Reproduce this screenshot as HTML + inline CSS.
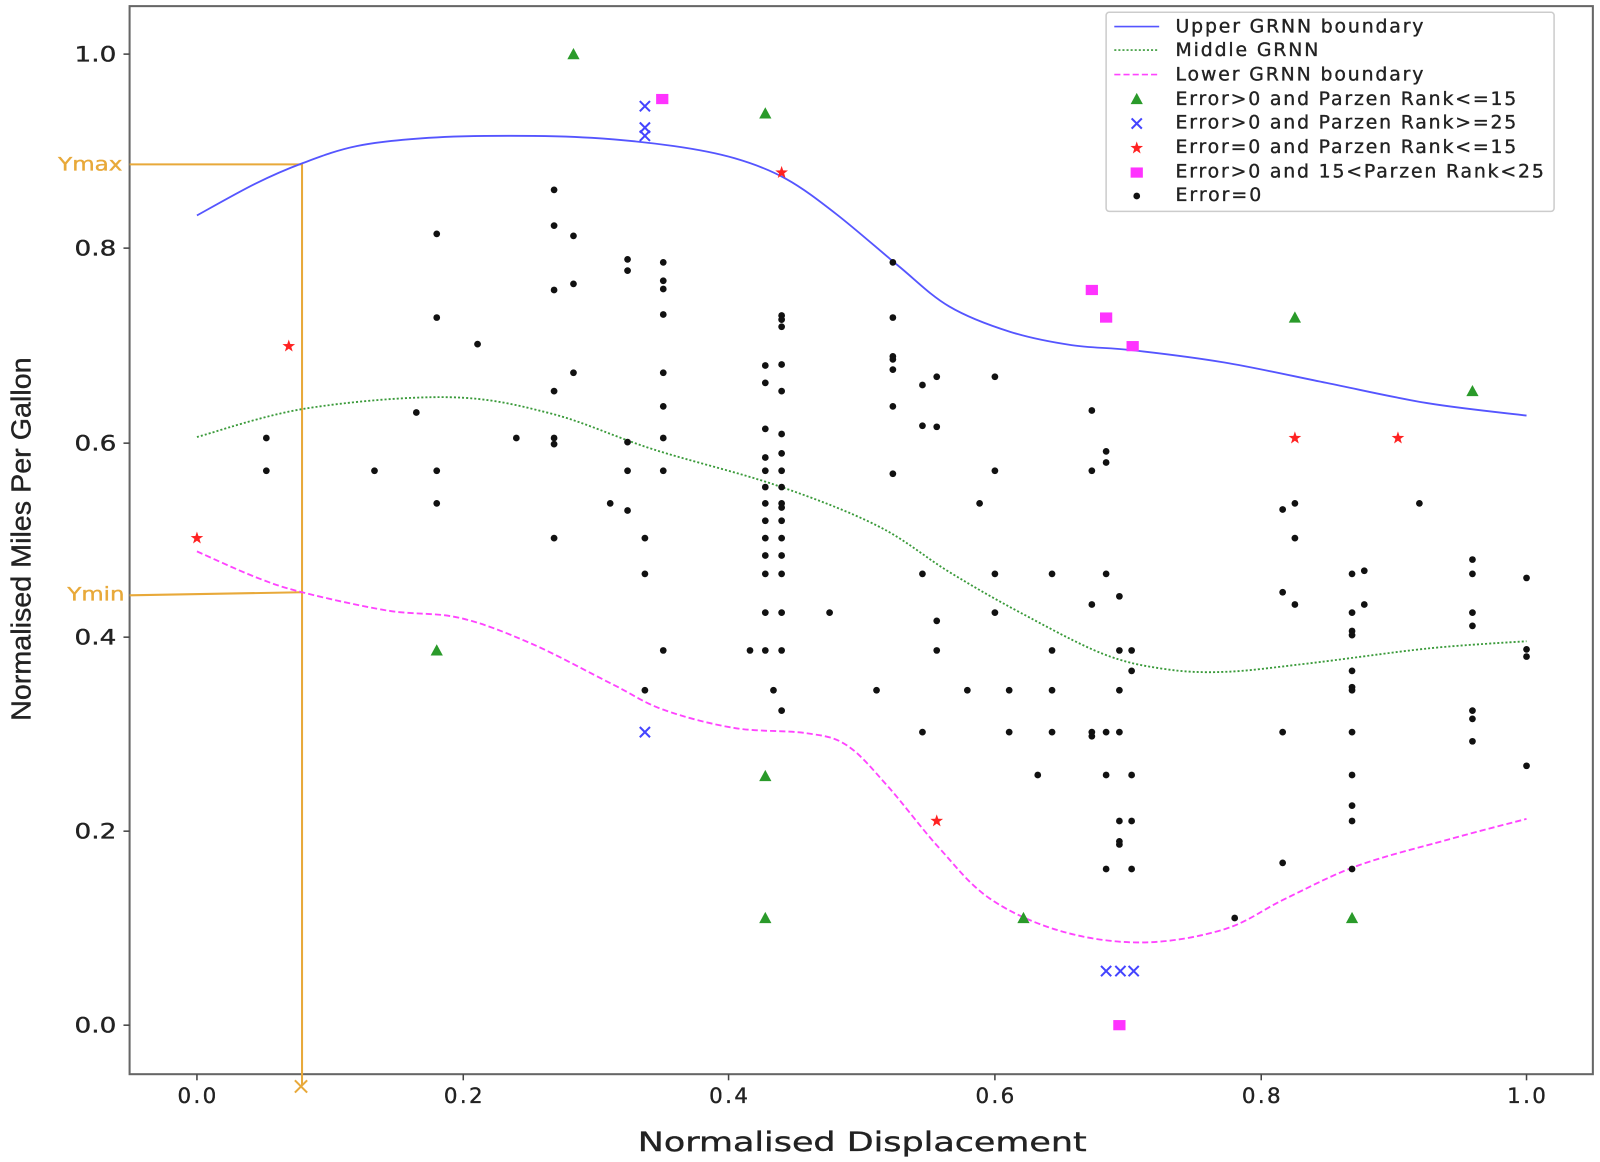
<!DOCTYPE html>
<html><head><meta charset="utf-8"><style>html,body{margin:0;padding:0;background:#fff}svg{display:block}text{stroke-width:0.35}</style></head>
<body>
<svg id="s" width="1600" height="1162" viewBox="0 0 1568 1138" preserveAspectRatio="none" xmlns="http://www.w3.org/2000/svg" font-family="DejaVu Sans, Liberation Sans, sans-serif">
<rect x="127" y="6" width="1434" height="1046" fill="none" stroke="#666" stroke-width="2"/>
<g font-size="21" fill="#222" stroke="#222" text-anchor="middle" lengthAdjust="spacingAndGlyphs">
<text x="193" y="1080" textLength="38">0.0</text><text x="454" y="1080" textLength="38">0.2</text><text x="714" y="1080" textLength="38">0.4</text><text x="975" y="1080" textLength="38">0.6</text><text x="1236" y="1080" textLength="38">0.8</text><text x="1496" y="1080" textLength="38">1.0</text>
</g>
<g stroke="#444" stroke-width="1.5"><line x1="193" y1="1052" x2="193" y2="1058"/><line x1="454" y1="1052" x2="454" y2="1058"/><line x1="714" y1="1052" x2="714" y2="1058"/><line x1="975" y1="1052" x2="975" y2="1058"/><line x1="1236" y1="1052" x2="1236" y2="1058"/><line x1="1496" y1="1052" x2="1496" y2="1058"/>
<line x1="121" y1="53" x2="127" y2="53"/><line x1="121" y1="243" x2="127" y2="243"/><line x1="121" y1="434" x2="127" y2="434"/><line x1="121" y1="624" x2="127" y2="624"/><line x1="121" y1="814" x2="127" y2="814"/><line x1="121" y1="1004" x2="127" y2="1004"/></g>
<g font-size="21" fill="#222" stroke="#222" text-anchor="end">
<text x="114" y="60" textLength="41" lengthAdjust="spacingAndGlyphs">1.0</text><text x="114" y="250" textLength="41" lengthAdjust="spacingAndGlyphs">0.8</text><text x="114" y="441" textLength="41" lengthAdjust="spacingAndGlyphs">0.6</text><text x="114" y="631" textLength="41" lengthAdjust="spacingAndGlyphs">0.4</text><text x="114" y="821" textLength="41" lengthAdjust="spacingAndGlyphs">0.2</text><text x="114" y="1011" textLength="41" lengthAdjust="spacingAndGlyphs">0.0</text>
</g>
<text x="625" y="1127" font-size="26" fill="#222" stroke="#222" textLength="440" lengthAdjust="spacingAndGlyphs">Normalised Displacement</text>
<text transform="translate(30,528) rotate(-90)" x="-178" y="0" font-size="27" fill="#222" stroke="#222" textLength="356" lengthAdjust="spacingAndGlyphs" font-family="Liberation Sans, sans-serif">Normalised Miles Per Gallon</text>
<g stroke="#e8a93a" stroke-width="2" fill="none"><polyline points="127,161 296,161 296,1063"/><line x1="127" y1="583" x2="296" y2="580"/><path d="M289,1058 l12,12 M301,1058 l-12,12"/></g>
<text x="57" y="167" font-size="18" fill="#e8a93a" stroke="#e8a93a" textLength="63" lengthAdjust="spacingAndGlyphs">Ymax</text>
<text x="66" y="588" font-size="18" fill="#e8a93a" stroke="#e8a93a" textLength="56" lengthAdjust="spacingAndGlyphs">Ymin</text>
<path id="c1" fill="none" stroke="#5555ff" stroke-width="1.8"/>
<path id="c2" fill="none" stroke="#3a9a3a" stroke-width="1.8" stroke-dasharray="2,2"/>
<path id="c3" fill="none" stroke="#ff44ff" stroke-width="1.8" stroke-dasharray="6,3"/>
<g id="pts"></g>
<rect x="1084" y="12" width="439" height="195" fill="#fff" fill-opacity="0.9" stroke="#ccc" stroke-width="1.5" rx="3"/>
<g stroke-width="1.6" fill="none"><line x1="1092" y1="26" x2="1136" y2="26" stroke="#5555ff"/><line x1="1092" y1="49" x2="1136" y2="49" stroke="#3a9a3a" stroke-dasharray="2,2"/><line x1="1092" y1="73" x2="1136" y2="73" stroke="#ff44ff" stroke-dasharray="6,3"/></g>
<g id="leg"></g>
<g font-size="18.5" fill="#222" stroke="#222" lengthAdjust="spacingAndGlyphs">
<text x="1152" y="32" textLength="243">Upper GRNN boundary</text><text x="1152" y="55" textLength="140">Middle GRNN</text><text x="1152" y="79" textLength="243">Lower GRNN boundary</text><text x="1152" y="103" textLength="334">Error&gt;0 and Parzen Rank&lt;=15</text><text x="1152" y="126" textLength="334">Error&gt;0 and Parzen Rank&gt;=25</text><text x="1152" y="150" textLength="334">Error=0 and Parzen Rank&lt;=15</text><text x="1152" y="174" textLength="361">Error&gt;0 and 15&lt;Parzen Rank&lt;25</text><text x="1152" y="197" textLength="84">Error=0</text>
</g>
</svg>
<script>
var NS="http://www.w3.org/2000/svg",g=document.getElementById("pts"),lg=document.getElementById("leg");
function cr(P){var d="M"+P[0][0]+","+P[0][1];for(var i=0;i<P.length-1;i++){var p0=P[Math.max(i-1,0)],p1=P[i],p2=P[i+1],p3=P[Math.min(i+2,P.length-1)];d+="C"+(p1[0]+(p2[0]-p0[0])/6).toFixed(1)+","+(p1[1]+(p2[1]-p0[1])/6).toFixed(1)+" "+(p2[0]-(p3[0]-p1[0])/6).toFixed(1)+","+(p2[1]-(p3[1]-p1[1])/6).toFixed(1)+" "+p2[0]+","+p2[1];}return d;}
function pl(s){return s.trim().split(/\s+/).map(function(t){return t.split(",").map(Number);});}
document.getElementById("c1").setAttribute("d",cr(pl("193,211 250,180 296,160 350,143 420,135 500,133 580,135 660,143 720,155 770,175 820,210 880,260 930,300 990,325 1050,338 1110,343 1200,355 1300,375 1400,395 1496,407")));
document.getElementById("c2").setAttribute("d",cr(pl("193,428 300,400 440,389 540,405 640,440 760,475 860,515 930,560 1000,600 1080,640 1140,655 1200,658 1280,650 1400,635 1496,628")));
document.getElementById("c3").setAttribute("d",cr(pl("193,540 250,565 296,580 380,598 450,605 520,630 600,670 650,695 720,713 790,718 830,730 870,770 920,830 970,880 1040,912 1120,923 1200,910 1260,880 1330,848 1420,822 1496,802")));
function el(p,t,a){var e=document.createElementNS(NS,t);for(var k in a)e.setAttribute(k,a[k]);p.appendChild(e);}
function dot(p,x,y){el(p,"circle",{cx:x,cy:y,r:3.3,fill:"#111"});}
function tri(p,x,y){el(p,"polygon",{points:(x-6)+","+(y+5)+" "+(x+6)+","+(y+5)+" "+x+","+(y-6),fill:"#2a9a2a"});}
function xm(p,x,y){el(p,"path",{d:"M"+(x-5)+","+(y-5)+"l10,10M"+(x+5)+","+(y-5)+"l-10,10",stroke:"#4444ff","stroke-width":2});}
function sq(p,x,y){el(p,"rect",{x:x-6,y:y-5,width:12,height:10,fill:"#ff33ff"});}
function st(p,x,y){var s="";for(var i=0;i<10;i++){var r=i%2?2.6:6.5,a=-Math.PI/2+i*Math.PI/5;s+=(x+r*Math.cos(a)).toFixed(1)+","+(y+r*Math.sin(a)).toFixed(1)+" ";}el(p,"polygon",{points:s,fill:"#ff2222"});}
var D={261:[429,461],367:[461],408:[404],428:[229,311,461,493],468:[337],506:[429],543:[186,221,284,383,429,435,527],562:[231,278,365],598:[493],615:[254,265,433,461,500],632:[527,562,676],650:[257,275,283,308,365,398,429,461,637],750:[358,375,420,448,461,477,493,510,527,544,562,600,637],758:[676],766:[309,313,320,357,383,425,444,461,477,493,497,510,527,544,562,600,637,696],735:[637],813:[600],859:[676],875:[257,311,349,352,362,398,464],904:[377,417,562,717],918:[637,608,369,418],948:[676],960:[493],975:[369,461,562,600],989:[676,717],1017:[759],1031:[562,637,676,717],1070:[402,461,592,717,721],1084:[442,453,562,717,759,851],1097:[584,637,676,717,804,824,827],1109:[637,657,759,804,851],1210:[899],1257:[499,580,717,845],1269:[493,527,592],1325:[562,600,618,622,657,673,676,717,759,789,804,851],1337:[559,592],1391:[493],1443:[548,562,600,613,696,704,726],1496:[566,636,643,750]};
for(var x in D)D[x].forEach(function(y){dot(g,+x,y);});
[[562,53],[750,111],[1269,311],[1443,383],[428,637],[750,760],[750,899],[1003,899],[1325,899]].forEach(function(p){tri(g,p[0],p[1]);});
[[632,104],[632,125],[632,133],[632,717],[1084,951],[1098,951],[1111,951]].forEach(function(p){xm(g,p[0],p[1]);});
[[766,169],[283,339],[193,527],[1269,429],[1370,429],[918,804]].forEach(function(p){st(g,p[0],p[1]);});
[[649,97],[1070,284],[1084,311],[1110,339],[1097,1004]].forEach(function(p){sq(g,p[0],p[1]);});
tri(lg,1114,97);xm(lg,1114,121);st(lg,1114,145);sq(lg,1114,169);dot(lg,1114,192);
</script>
</body></html>
